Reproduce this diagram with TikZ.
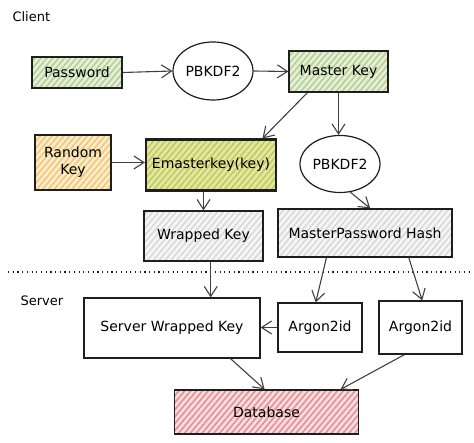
\documentclass[tikz,border=0pt]{standalone}
\usepackage{fontspec}
\setmainfont{DejaVu Sans}
\usetikzlibrary{arrows.meta,shapes.geometric,patterns.meta,calc}
\definecolor{ink}{HTML}{1E1E1E}
\definecolor{gbase}{HTML}{E6EFD9}
\definecolor{gline}{HTML}{B4D092}
\definecolor{obase}{HTML}{FBECCE}
\definecolor{oline}{HTML}{F0C878}
\definecolor{ybase}{HTML}{E3E7A4}
\definecolor{yline}{HTML}{C2CB5C}
\definecolor{wbase}{HTML}{F6F6F6}
\definecolor{wline}{HTML}{D9D9D9}
\definecolor{rbase}{HTML}{F7DDDD}
\definecolor{rline}{HTML}{E4909A}
\tikzset{
  boxnode/.style={draw=ink, line width=1.2pt, rectangle, align=center, inner sep=2pt, text=black, font=\fontsize{14}{17}\selectfont},
  ellnode/.style={draw=ink, line width=1.2pt, ellipse, inner sep=0pt, text=black, font=\fontsize{14}{17}\selectfont, fill=white},
  hatch/.style 2 args={preaction={fill=#1}, pattern={Lines[angle=50,distance=4.5pt,line width=1.6pt]}, pattern color=#2},
  conn/.style={draw=ink!85, line width=1.1pt, -{Straight Barb[length=10pt,width=13pt,line width=1.1pt]}},
  lbl/.style={anchor=west, font=\fontsize{13}{16}\selectfont, text=black}
}
\begin{document}
\begin{tikzpicture}[x=1pt,y=-1pt]
\useasboundingbox (0,0) rectangle (474,443);
\node[lbl] (client) at (9,17) {Client};
\node[lbl] (server) at (17,301) {Server};

\node[boxnode, hatch={gbase}{gline}, minimum width=90pt, minimum height=31pt] (pw) at (77,72.5) {Password};
\node[ellnode, minimum width=80pt, minimum height=58pt] (pb1) at (213,71) {PBKDF2};
\node[boxnode, hatch={gbase}{gline}, minimum width=99pt, minimum height=41pt] (mk) at (338.5,71.5) {Master Key};
\node[boxnode, hatch={obase}{oline}, minimum width=76pt, minimum height=55pt] (rk) at (73,162.5) {Random\\Key};
\node[boxnode, hatch={ybase}{yline}, line width=2.2pt, minimum width=130pt, minimum height=51pt] (em) at (211,165) {Emasterkey(key)};
\node[ellnode, minimum width=80pt, minimum height=57pt] (pb2) at (340,164) {PBKDF2};
\node[boxnode, hatch={wbase}{wline}, minimum width=119pt, minimum height=50pt] (wk) at (203.5,236) {Wrapped Key};
\node[boxnode, hatch={wbase}{wline}, minimum width=174pt, minimum height=48pt] (mph) at (365,233) {MasterPassword Hash};
\node[boxnode, fill=white, minimum width=176pt, minimum height=60pt] (swk) at (172,328) {Server Wrapped Key};
\node[boxnode, fill=white, minimum width=84pt, minimum height=49pt] (a1) at (320,327.5) {Argon2id};
\node[boxnode, fill=white, minimum width=83pt, minimum height=53pt] (a2) at (420.5,327.5) {Argon2id};
\node[boxnode, hatch={rbase}{rline}, minimum width=184pt, minimum height=44pt] (db) at (266.5,412) {Database};

\coordinate (dl) at (8,272);
\coordinate (dr) at (470,272);
\draw[ink, line width=1.2pt, dash pattern=on 1.2pt off 3.5pt] (dl) -- (dr);

\draw[conn] (pw.east) -- (pb1.west);
\draw[conn] (pb1.east) -- (mk.west);
\draw[conn] ($(mk.south west)!0.19!(mk.south east)$) -- ($(em.north east)!0.11!(em.north west)$);
\draw[conn] (mk.south) -- (mk.south |- pb2.north);
\draw[conn] (rk.east) -- (rk.east -| em.west);
\draw[conn] (wk.north |- em.south) -- (wk.north);
\draw[conn] (pb2.-70) -- ($(mph.north west)!0.53!(mph.north east)$);
\coordinate (wks) at ($(wk.south west)!0.56!(wk.south east)$);
\draw[conn] (wks) -- (wks |- swk.north);
\draw[conn] ($(mph.south west)!0.28!(mph.south east)$) -- ($(a1.north west)!0.45!(a1.north east)$);
\draw[conn] ($(mph.south west)!0.75!(mph.south east)$) -- ($(a2.north west)!0.52!(a2.north east)$);
\draw[conn] (a1.west) -- (a1.west -| swk.east);
\draw[conn] ($(swk.south west)!0.83!(swk.south east)$) -- ($(db.north west)!0.49!(db.north east)$);
\draw[conn] ($(a2.south west)!0.31!(a2.south east)$) -- ($(db.north west)!0.9!(db.north east)$);
\end{tikzpicture}
\end{document}
